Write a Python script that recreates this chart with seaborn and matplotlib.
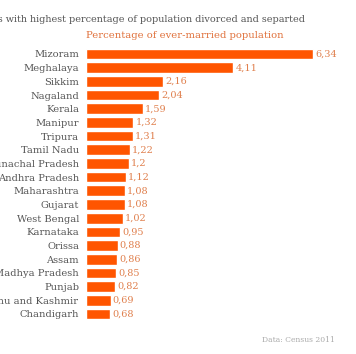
import matplotlib
matplotlib.use("Agg")
import matplotlib.pyplot as plt
import pandas as pd
import seaborn as sns

states = ["Mizoram", "Meghalaya", "Sikkim", "Nagaland", "Kerala", "Manipur",
          "Tripura", "Tamil Nadu", "Arunachal Pradesh", "Andhra Pradesh",
          "Maharashtra", "Gujarat", "West Bengal", "Karnataka", "Orissa",
          "Assam", "Madhya Pradesh", "Punjab", "Jammu and Kashmir", "Chandigarh"]
pct = [6.34, 4.11, 2.16, 2.04, 1.59, 1.32, 1.31, 1.22, 1.2, 1.12,
       1.08, 1.08, 1.02, 0.95, 0.88, 0.86, 0.85, 0.82, 0.69, 0.68]

df = pd.DataFrame({"state": states, "pct": pct})

sns.set_style("white")
plt.rcParams["font.family"] = ["DejaVu Serif"]

fig = plt.figure(figsize=(3.56, 3.54), dpi=100)
ax = fig.add_axes([86 / 356, 0.0938, 254 / 356, 0.773])
sns.barplot(data=df, x="pct", y="state", color="#ff5500", saturation=1,
            width=0.78, ax=ax)
ax.set_xlim(0, 7.09)
ax.set_ylim(19.5, -0.5)
ax.set_xlabel("")
ax.set_ylabel("")
ax.set_xticks([])
sns.despine(ax=ax, left=True, bottom=True)
ax.tick_params(axis="y", length=0, pad=5, labelsize=7.1, labelcolor="#555555")

for i, v in enumerate(pct):
    ax.text(v + 0.06, i, f"{v:g}".replace(".", ","), va="center", ha="left",
            fontsize=7, color="#e0804e")

fig.text(305 / 356, 1 - 19 / 354, "States with highest percentage of population divorced and separted",
         ha="right", va="center", fontsize=6.9, color="#555555")
fig.text(86 / 356, 1 - 35 / 354, "Percentage of ever-married population",
         ha="left", va="center", fontsize=7.2, color="#e0703a")
fig.text(335 / 356, 1 - 340 / 354, "Data: Census 2011",
         ha="right", va="center", fontsize=5.5, color="#aaaaaa")

fig.savefig("out.png", dpi=100)
